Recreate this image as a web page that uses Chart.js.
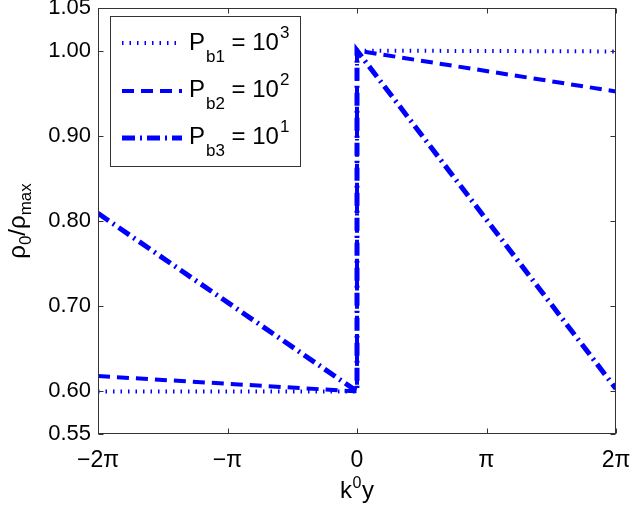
<!DOCTYPE html>
<html><head><meta charset="utf-8">
<script src="https://cdn.jsdelivr.net/npm/chart.js@4/dist/chart.umd.min.js"></script>
<style>html,body{margin:0;padding:0;background:#fff}#wrap{width:640px;height:505px}</style>
</head><body><div id="wrap"><canvas id="c" width="640" height="505"></canvas></div>
<script>
const PI = Math.PI;
const xTickValues = [-2 * PI, -PI, 0, PI, 2 * PI];
const xTickLabels = ['\u22122\u03C0', '\u2212\u03C0', '0', '\u03C0', '2\u03C0'];
const yTickValues = [0.55, 0.60, 0.70, 0.80, 0.90, 1.00, 1.05];
const yTickLabels = ['0.55', '0.60', '0.70', '0.80', '0.90', '1.00', '1.05'];
const seriesX = [-2 * PI, 0, 0, 2 * PI];
const pb1 = [0.600, 0.600, 1.000, 0.999];
const pb2 = [0.618, 0.600, 1.000, 0.952];
const pb3 = [0.809, 0.600, 1.000, 0.603];
const legendSubs = ['b1', 'b2', 'b3'];
const legendSups = ['3', '2', '1'];

const FONT = '"Liberation Sans", Arial, Helvetica, sans-serif';
const BLUE = '#0000ff';
const styles = [
  { width: 4, dash: [1.5, 6] },
  { width: 4, dash: [12, 7] },
  { width: 5, dash: [13, 5, 2, 5] }
];

function pts(ys) { return ys.map((y, i) => ({ x: seriesX[i], y: y })); }

const overlay = {
  id: 'overlay',
  afterDraw(chart) {
    const ctx = chart.ctx;
    const a = chart.chartArea;
    const xs = chart.scales.x, ys = chart.scales.y;
    ctx.save();
    ctx.strokeStyle = '#333';
    ctx.lineWidth = 1;
    ctx.setLineDash([]);
    const L = Math.round(a.left) + 0.5, R = Math.round(a.right) - 0.5;
    const T = Math.round(a.top) + 0.5, B = Math.round(a.bottom) - 0.5;
    ctx.strokeRect(L, T, R - L, B - T);
    ctx.beginPath();
    const tl = 5;
    xTickValues.forEach(v => {
      const px = Math.round(xs.getPixelForValue(v)) + 0.5;
      ctx.moveTo(px, B); ctx.lineTo(px, B - tl);
      ctx.moveTo(px, T); ctx.lineTo(px, T + tl);
    });
    yTickValues.forEach(v => {
      const py = Math.round(ys.getPixelForValue(v)) + 0.5;
      ctx.moveTo(L, py); ctx.lineTo(L + tl, py);
      ctx.moveTo(R, py); ctx.lineTo(R - tl, py);
    });
    ctx.stroke();

    // legend
    const lx = 110.5, ly = 16.5, lw = 190, lh = 150;
    ctx.fillStyle = '#fff';
    ctx.fillRect(lx, ly, lw, lh);
    ctx.strokeStyle = '#333';
    ctx.lineWidth = 1;
    ctx.strokeRect(lx, ly, lw, lh);
    const rowLine = [43, 91, 138];
    const rowBase = [50, 97, 144];
    for (let i = 0; i < 3; i++) {
      ctx.strokeStyle = BLUE;
      ctx.lineWidth = styles[i].width;
      ctx.setLineDash(styles[i].dash);
      ctx.lineCap = 'butt';
      ctx.beginPath();
      ctx.moveTo(122, rowLine[i]);
      ctx.lineTo(182, rowLine[i]);
      ctx.stroke();
      ctx.setLineDash([]);
      ctx.fillStyle = '#000';
      ctx.textBaseline = 'alphabetic';
      ctx.textAlign = 'left';
      let x = 189;
      ctx.font = '24px ' + FONT;
      ctx.fillText('P', x, rowBase[i]);
      x += ctx.measureText('P').width + 1;
      ctx.font = '17px ' + FONT;
      ctx.fillText(legendSubs[i], x, rowBase[i] + 12);
      x += ctx.measureText(legendSubs[i]).width;
      ctx.font = '24px ' + FONT;
      ctx.fillText(' = 10', x, rowBase[i]);
      x += ctx.measureText(' = 10').width + 1;
      ctx.font = '17px ' + FONT;
      ctx.fillText(legendSups[i], x, rowBase[i] - 12);
    }

    // x title k^0 y
    ctx.fillStyle = '#000';
    ctx.textAlign = 'left';
    ctx.font = '24px ' + FONT;
    const wk = ctx.measureText('k').width, wy = ctx.measureText('y').width;
    ctx.font = '16px ' + FONT;
    const w0 = ctx.measureText('0').width;
    const cx = (a.left + a.right) / 2;
    let x = cx - (wk + w0 + wy + 1) / 2;
    const base = 498;
    ctx.font = '24px ' + FONT;
    ctx.fillText('k', x, base); x += wk + 0.5;
    ctx.font = '16px ' + FONT;
    ctx.fillText('0', x, base - 10); x += w0 + 0.5;
    ctx.font = '24px ' + FONT;
    ctx.fillText('y', x, base);

    // y title rho_0 / rho_max
    ctx.save();
    const cy = (a.top + a.bottom) / 2;
    ctx.translate(25, cy);
    ctx.rotate(-PI / 2);
    const parts = [
      { t: '\u03C1', f: 24, dy: 0 },
      { t: '0', f: 17, dy: 6 },
      { t: '/\u03C1', f: 24, dy: 0 },
      { t: 'max', f: 17, dy: 6 }
    ];
    let tot = 0;
    parts.forEach(p => { ctx.font = p.f + 'px ' + FONT; p.w = ctx.measureText(p.t).width; tot += p.w; });
    let px = -tot / 2;
    parts.forEach(p => { ctx.font = p.f + 'px ' + FONT; ctx.fillText(p.t, px, p.dy); px += p.w; });
    ctx.restore();
    ctx.restore();
  }
};

const ds = [pb1, pb2, pb3].map((arr, i) => ({
  label: 'P' + legendSubs[i],
  data: pts(arr),
  borderColor: BLUE,
  backgroundColor: BLUE,
  borderWidth: styles[i].width,
  borderDash: styles[i].dash,
  borderCapStyle: 'butt',
  pointRadius: 0,
  fill: false,
  tension: 0
}));

new Chart(document.getElementById('c'), {
  type: 'line',
  data: { datasets: ds },
  plugins: [overlay],
  options: {
    responsive: false,
    animation: false,
    devicePixelRatio: 1,
    layout: { padding: { left: 0, top: 8, right: 24, bottom: 0 } },
    plugins: { legend: { display: false }, tooltip: { enabled: false } },
    scales: {
      x: {
        type: 'linear',
        min: -2 * PI, max: 2 * PI,
        grid: { display: false, drawTicks: false },
        border: { display: false },
        afterBuildTicks: s => { s.ticks = xTickValues.map(v => ({ value: v })); },
        afterFit: s => { s.height = 71; s.paddingLeft = 0; s.paddingRight = 0; },
        ticks: {
          autoSkip: false, maxRotation: 0, padding: 13, color: '#000',
          font: { family: FONT, size: 23 },
          callback: (v, i) => xTickLabels[i]
        }
      },
      y: {
        type: 'linear',
        min: 0.55, max: 1.05,
        grid: { display: false, drawTicks: false },
        border: { display: false },
        afterBuildTicks: s => { s.ticks = yTickValues.map(v => ({ value: v })); },
        afterFit: s => { s.width = 98; s.paddingTop = 0; s.paddingBottom = 0; },
        ticks: {
          autoSkip: false, padding: 7, color: '#000',
          font: { family: FONT, size: 22 },
          callback: (v, i) => yTickLabels[i]
        }
      }
    }
  }
});
</script>
</body></html>
